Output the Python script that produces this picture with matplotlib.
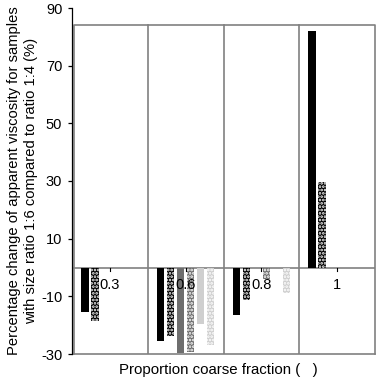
import numpy as np
import matplotlib
matplotlib.use("Agg")
import matplotlib.pyplot as plt

plt.rcParams['font.family'] = ['Liberation Sans', 'DejaVu Sans']
plt.rcParams['hatch.linewidth'] = 1.3
plt.rcParams['axes.unicode_minus'] = False

categories = ["0.3", "0.6", "0.8", "1"]
s_black = [-15.5, -25.5, -16.6, 82.1]
s_black_dot = [-18.7, -23.9, -11.4, 29.6]
s_dgrey = [np.nan, -29.7, np.nan, np.nan]
s_grey_dot = [np.nan, -29.3, -3.9, np.nan]
s_lgrey = [np.nan, -19.7, np.nan, np.nan]
s_lgrey_dot = [np.nan, -26.8, -8.8, np.nan]
yticks = [-30, -10, 10, 30, 50, 70, 90]

series = [
    (s_black, '#000000', None),
    (s_black_dot, '#000000', '.' * 5),
    (s_dgrey, '#6e6e6e', None),
    (s_grey_dot, '#6e6e6e', '.' * 5),
    (s_lgrey, '#cfcfcf', None),
    (s_lgrey_dot, '#cfcfcf', '.' * 5),
]

fig = plt.figure(figsize=(3.78, 3.80), dpi=100)
ax = fig.add_axes([72/378, 1-354/380, (375-72)/378, (354-8)/380])
ax.set_xlim(0, 4)
ax.set_ylim(-30, 90)

x = np.arange(len(categories)) + 0.5
step = 0.132
w = 0.1
for k, (vals, col, hatch) in enumerate(series):
    xs = x + (k - 2.5) * step
    v = np.array(vals, dtype=float)
    if hatch:
        ax.bar(xs, v, width=w, color=col, edgecolor='white', linewidth=0,
               hatch=hatch, zorder=3)
    else:
        ax.bar(xs, v, width=w, color=col, linewidth=0, zorder=3)

# plot-area box and category separators
gc = '#808080'
x0 = 0.03
top = 84.1
ax.plot([x0, x0, 4, 4], [-30, top, top, -30], color=gc, lw=1.2, zorder=2, clip_on=False)
ax.plot([x0, 4], [-30, -30], color=gc, lw=1.2, zorder=2, clip_on=False)
for b in [1, 2, 3]:
    ax.plot([b, b], [-30, top], color=gc, lw=1.2, zorder=2)
ax.plot([x0, 4], [0, 0], color=gc, lw=1.2, zorder=2)

# category labels and small ticks
for xi, lab in zip(x, categories):
    ax.plot([xi, xi], [0, -1.2], color='black', lw=0.8, zorder=2)
    ax.text(xi, -6.2, lab, ha='center', va='center', fontsize=10.5, zorder=4)

for s in ['top', 'right', 'bottom']:
    ax.spines[s].set_visible(False)
ax.spines['left'].set_color('black')
ax.spines['left'].set_linewidth(0.9)
ax.set_xticks([])
ax.set_yticks(yticks)
ax.tick_params(axis='y', direction='out', length=3, width=0.9, labelsize=10.5, pad=4)

ax.set_ylabel("Percentage change of apparent viscosity for samples\nwith size ratio 1:6 compared to ratio 1:4 (%)",
              fontsize=10.6, labelpad=2, linespacing=1.3)
fig.text(218/378, 1-370/380, "Proportion coarse fraction (   )", ha='center', va='center', fontsize=10.8)

fig.savefig("out.png", dpi=100)
